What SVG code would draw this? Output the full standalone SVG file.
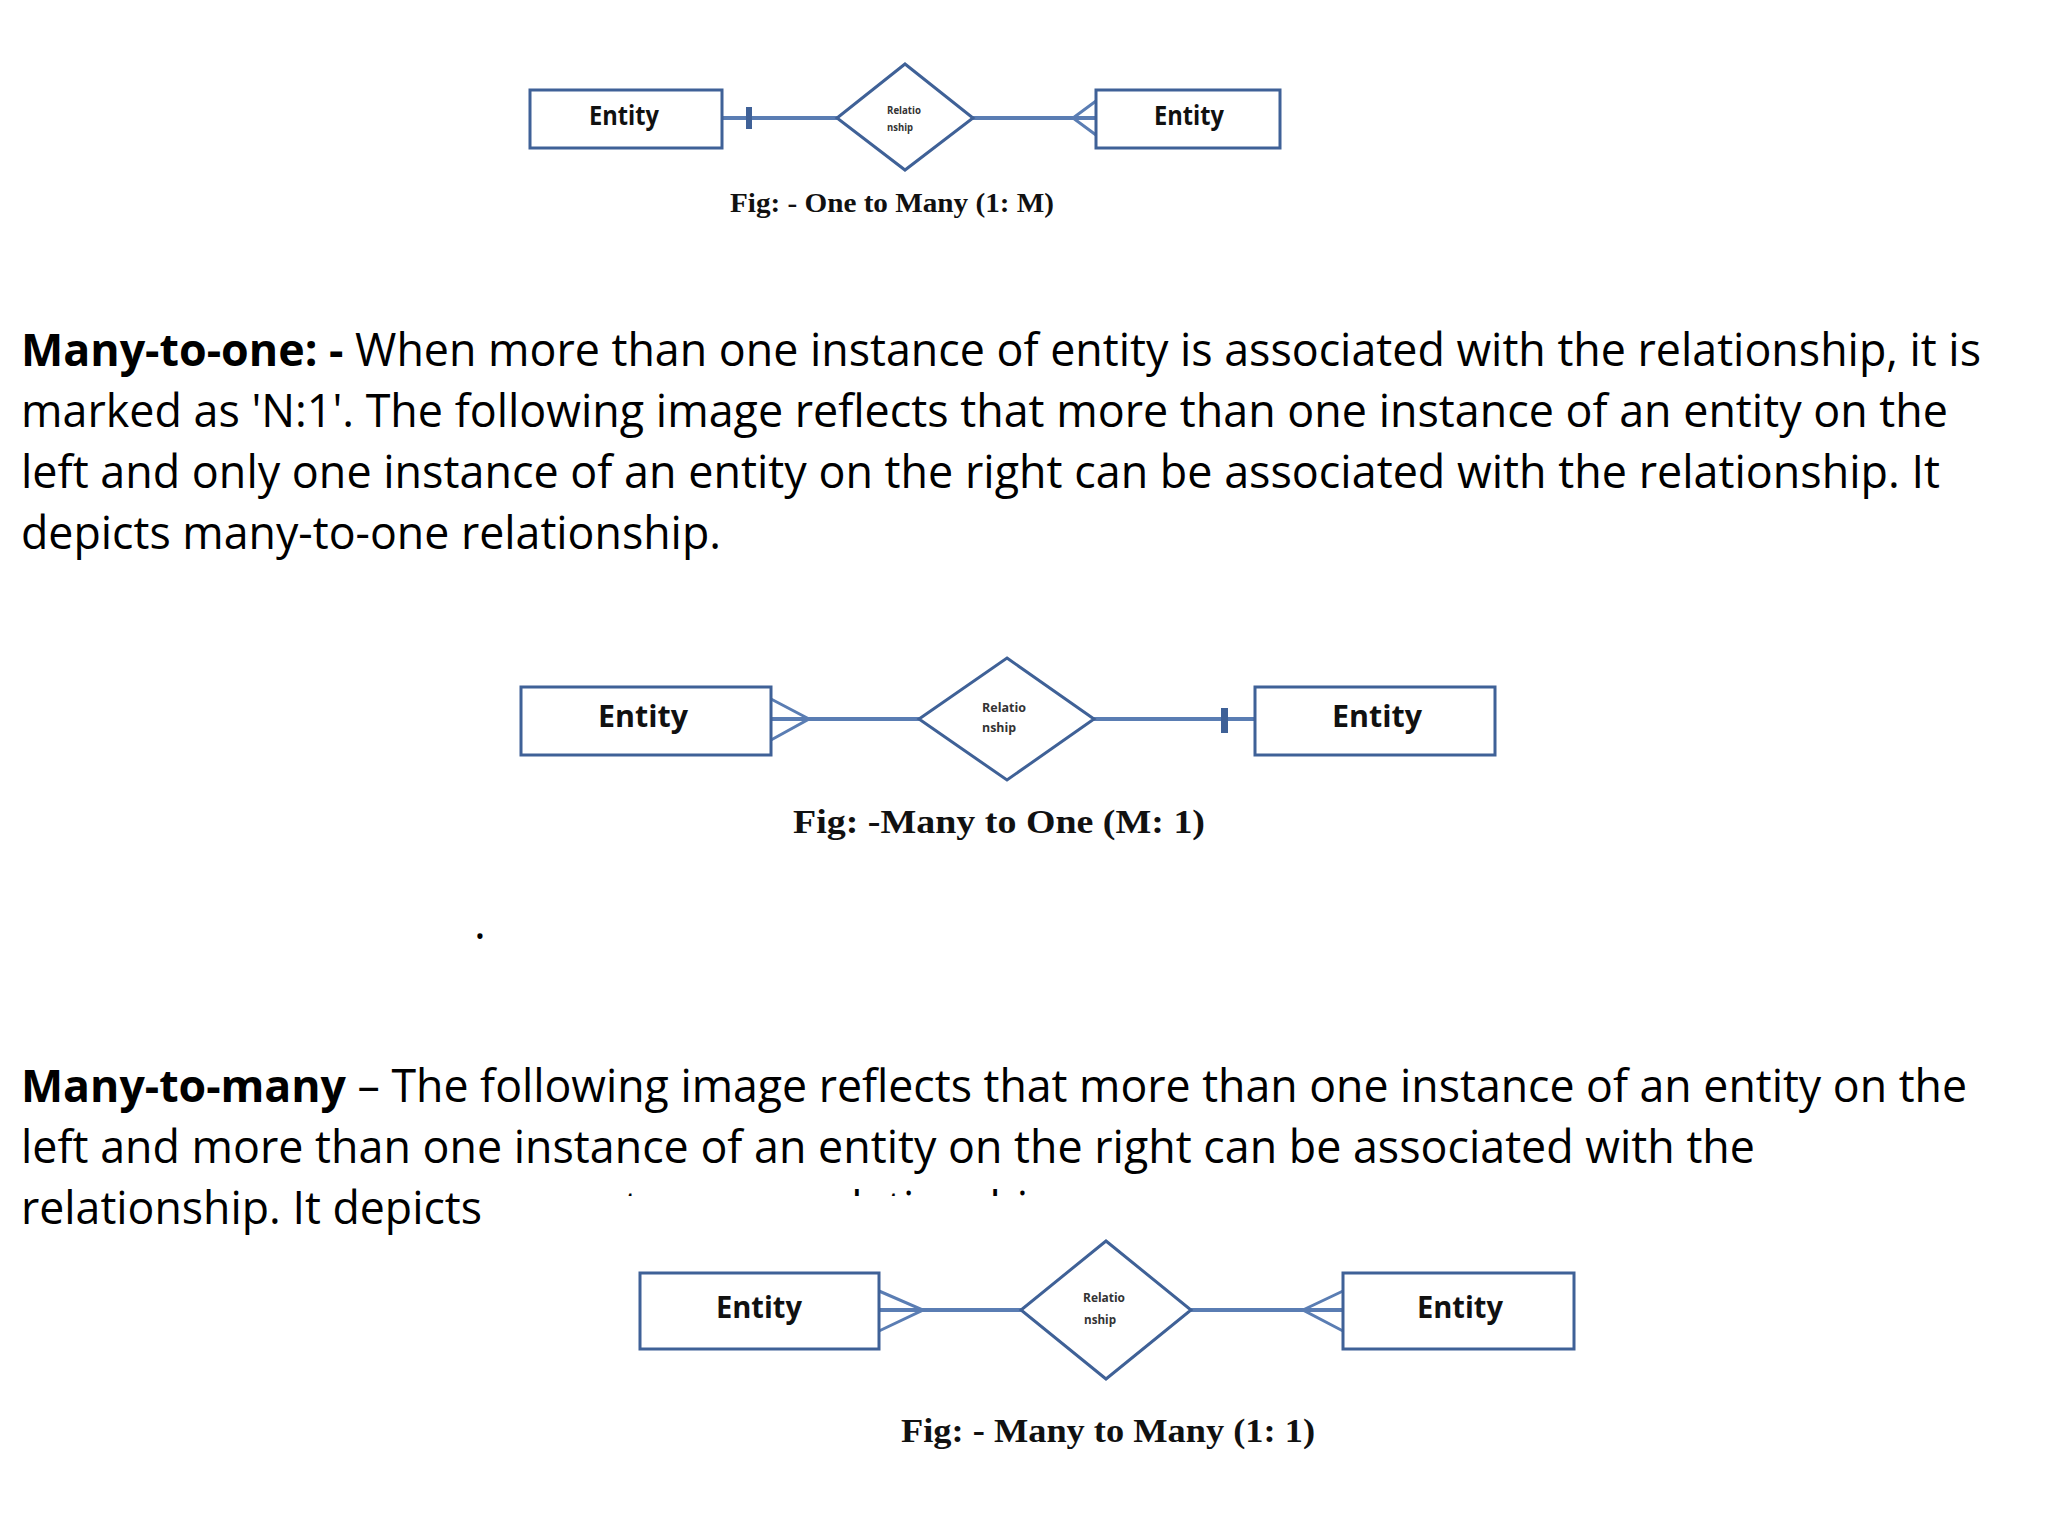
<svg xmlns="http://www.w3.org/2000/svg" width="2048" height="1536" viewBox="0 0 2048 1536">
<defs>
<style>
.box{fill:#fff;stroke:#3F6197;stroke-width:3}
.dia{fill:#fff;stroke:#3F6197;stroke-width:3;stroke-linejoin:miter}
.conn{stroke:#5A7DB3;stroke-width:4;fill:none}
.crow{stroke:#5A7DB3;stroke-width:3;fill:none}
.tick{fill:#3F6197}
.ent{font-family:"Open Sans","Liberation Sans",sans-serif;font-weight:bold;fill:#111;text-anchor:middle}
.rel{font-family:"Open Sans","Liberation Sans",sans-serif;font-weight:bold;fill:#333;text-anchor:middle}
.cap{font-family:"Liberation Serif","DejaVu Serif",serif;font-weight:bold;fill:#111}
.body{font-family:"Open Sans","Liberation Sans",sans-serif;font-size:45px;fill:#000}
.b{font-weight:bold}
</style>
<clipPath id="imgTop"><rect x="0" y="0" width="2048" height="1196"/></clipPath>
</defs>
<rect x="0" y="0" width="2048" height="1536" fill="#fff"/>

<!-- Paragraph 1 -->
<text class="body" x="21" y="366" textLength="1960" lengthAdjust="spacingAndGlyphs"><tspan class="b">Many-to-one: -</tspan> When more than one instance of entity is associated with the relationship, it is</text>
<text class="body" x="21" y="427" textLength="1927" lengthAdjust="spacingAndGlyphs">marked as 'N:1'. The following image reflects that more than one instance of an entity on the</text>
<text class="body" x="21" y="488" textLength="1919" lengthAdjust="spacingAndGlyphs">left and only one instance of an entity on the right can be associated with the relationship. It</text>
<text class="body" x="21" y="549" textLength="700" lengthAdjust="spacingAndGlyphs">depicts many-to-one relationship.</text>

<text class="body" x="474" y="939">.</text>

<!-- Paragraph 2 -->
<text class="body" x="21" y="1102" textLength="1946" lengthAdjust="spacingAndGlyphs"><tspan class="b">Many-to-many</tspan> – The following image reflects that more than one instance of an entity on the</text>
<text class="body" x="21" y="1163" textLength="1734" lengthAdjust="spacingAndGlyphs">left and more than one instance of an entity on the right can be associated with the</text>
<text class="body" x="21" y="1224" textLength="461" lengthAdjust="spacingAndGlyphs">relationship. It depicts</text>
<text class="body" x="494" y="1224" textLength="573" lengthAdjust="spacingAndGlyphs" clip-path="url(#imgTop)">many-to-many relationship.</text>

<!-- Connectors -->
<g id="connectors">
  <line class="conn" x1="722" y1="118" x2="837" y2="118"/>
  <rect class="tick" x="746" y="107" width="6" height="22"/>
  <line class="conn" x1="973" y1="118" x2="1096" y2="118"/>
  <polyline class="crow" points="1096,101 1073,118 1096,135"/>

  <line class="conn" x1="771" y1="719" x2="919" y2="719"/>
  <polyline class="crow" points="771,699 809,719 771,740"/>
  <line class="conn" x1="1094" y1="719" x2="1255" y2="719"/>
  <rect class="tick" x="1221" y="708" width="7" height="25"/>

  <line class="conn" x1="879" y1="1310" x2="1021" y2="1310"/>
  <polyline class="crow" points="879,1291 923,1310 879,1331"/>
  <line class="conn" x1="1191" y1="1310" x2="1343" y2="1310"/>
  <polyline class="crow" points="1343,1291 1303,1310 1343,1331"/>
</g>

<!-- Diagram 1: One to Many -->
<g id="d1-entity-left">
  <rect class="box" x="530" y="90" width="192" height="58"/>
  <text class="ent" x="624" y="125" font-size="26" textLength="70" lengthAdjust="spacingAndGlyphs">Entity</text>
</g>
<g id="d1-relationship">
  <polygon class="dia" points="905,64 973,118 905,170 837,118"/>
  <text class="rel" x="904" y="114" font-size="11" textLength="34" lengthAdjust="spacingAndGlyphs">Relatio</text>
  <text class="rel" x="900" y="131" font-size="11" textLength="26" lengthAdjust="spacingAndGlyphs">nship</text>
</g>
<g id="d1-entity-right">
  <rect class="box" x="1096" y="90" width="184" height="58"/>
  <text class="ent" x="1189" y="125" font-size="26" textLength="70" lengthAdjust="spacingAndGlyphs">Entity</text>
</g>
<text class="cap" x="730" y="212" font-size="28" textLength="324" lengthAdjust="spacingAndGlyphs">Fig: - One to Many (1: M)</text>

<!-- Diagram 2: Many to One -->
<g id="d2-entity-left">
  <rect class="box" x="521" y="687" width="250" height="68"/>
  <text class="ent" x="643" y="727" font-size="30" textLength="90" lengthAdjust="spacingAndGlyphs">Entity</text>
</g>
<g id="d2-relationship">
  <polygon class="dia" points="1007,658 1094,719 1007,780 919,719"/>
  <text class="rel" x="1004" y="712" font-size="12" textLength="44" lengthAdjust="spacingAndGlyphs">Relatio</text>
  <text class="rel" x="999" y="732" font-size="12" textLength="34" lengthAdjust="spacingAndGlyphs">nship</text>
</g>
<g id="d2-entity-right">
  <rect class="box" x="1255" y="687" width="240" height="68"/>
  <text class="ent" x="1377" y="727" font-size="30" textLength="90" lengthAdjust="spacingAndGlyphs">Entity</text>
</g>
<text class="cap" x="793" y="833" font-size="34" textLength="412" lengthAdjust="spacingAndGlyphs">Fig: -Many to One (M: 1)</text>

<!-- Diagram 3: Many to Many -->
<g id="d3-entity-left">
  <rect class="box" x="640" y="1273" width="239" height="76"/>
  <text class="ent" x="759" y="1318" font-size="30" textLength="86" lengthAdjust="spacingAndGlyphs">Entity</text>
</g>
<g id="d3-relationship">
  <polygon class="dia" points="1106,1241 1191,1310 1106,1379 1021,1310"/>
  <text class="rel" x="1104" y="1302" font-size="12" textLength="42" lengthAdjust="spacingAndGlyphs">Relatio</text>
  <text class="rel" x="1100" y="1324" font-size="12" textLength="32" lengthAdjust="spacingAndGlyphs">nship</text>
</g>
<g id="d3-entity-right">
  <rect class="box" x="1343" y="1273" width="231" height="76"/>
  <text class="ent" x="1460" y="1318" font-size="30" textLength="86" lengthAdjust="spacingAndGlyphs">Entity</text>
</g>
<text class="cap" x="901" y="1442" font-size="34" textLength="414" lengthAdjust="spacingAndGlyphs">Fig: - Many to Many (1: 1)</text>
</svg>
